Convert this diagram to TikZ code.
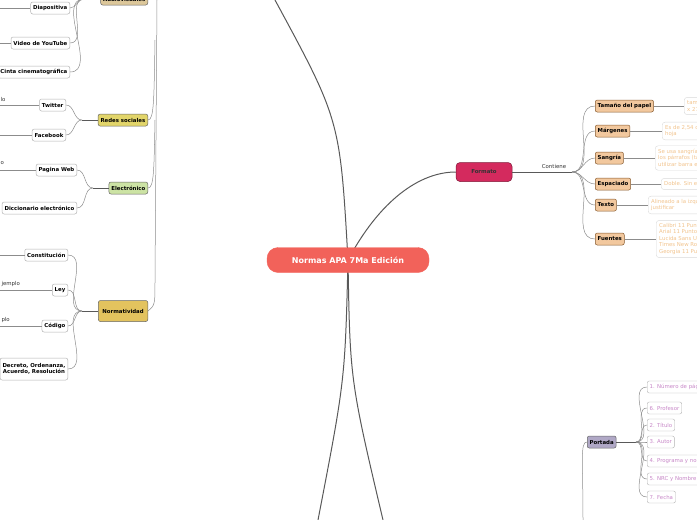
\documentclass[tikz,border=0pt]{standalone}
\usepackage{fontspec}
\setmainfont{DejaVu Sans}
\definecolor{fmtc}{HTML}{D42A5E}
\definecolor{tanc}{HTML}{F2C89E}
\definecolor{avc}{HTML}{DCC79A}
\definecolor{rsc}{HTML}{E2D56A}
\definecolor{elc}{HTML}{CCE3A4}
\definecolor{nmc}{HTML}{E3C35E}
\definecolor{porc}{HTML}{B0A8C6}
\definecolor{cenc}{HTML}{F2625A}
\definecolor{oc}{HTML}{F2C48E}
\definecolor{pc}{HTML}{C888C8}
\begin{document}
\begin{tikzpicture}[x=1pt,y=-1pt,
 ln/.style={draw=black!45,line width=0.5pt},
 trunk/.style={draw=black!65,line width=1pt},
 box/.style={draw=black!55,rounded corners=2pt,font=\fontsize{5.4}{6.5}\selectfont\bfseries,inner sep=2.4pt,minimum height=12pt,line width=0.5pt},
 leaf/.style={box,fill=white,draw=black!30},
 sub/.style={box,draw=black!60},
 oleaf/.style={draw=black!15,rounded corners=3pt,fill=white,text=oc,font=\fontsize{5.4}{6.5}\selectfont,inner sep=3pt,align=left},
 pleaf/.style={draw=black!30,rounded corners=2pt,fill=white,text=pc,font=\fontsize{5.4}{6.5}\selectfont,inner sep=2.5pt,minimum height=12pt},
 lbl/.style={font=\fontsize{5.4}{6.5}\selectfont,text=black!80}]
\useasboundingbox (0,0) rectangle (697,520);
\clip (0,0) rectangle (697,520);
\coordinate (c) at (348,260);
\coordinate (t1) at (275,0);
\coordinate (b1) at (318,520);
\coordinate (b2) at (383,520);
\coordinate (tr) at (157,0);
\draw[trunk] (c) .. controls (340,120) .. (t1);
\draw[trunk] (c) .. controls (345,380) .. (b1);
\draw[trunk] (c) .. controls (350,380) .. (b2);
% Formato
\node[box,fill=fmtc,draw=fmtc!60!black,minimum width=56pt,minimum height=19pt,rounded corners=4pt,text=black!80] (fmt) at (484,172) {Formato};
\draw[trunk] (c) .. controls (380,200) and (420,172) .. (fmt.west);
\coordinate (fj) at (572,172);
\draw[trunk] (fmt.east) -- (fj);
\node[lbl,above] at (554,172) {Contiene};
\tikzset{fs/.style={sub,fill=tanc,draw=brown!70!black,anchor=west}}
\node[fs] (tp) at (595,106) {Tamaño del papel};
\node[fs] (mg) at (595,131) {Márgenes};
\node[fs] (sg) at (595,158) {Sangría};
\node[fs] (es) at (595,184) {Espaciado};
\node[fs] (tx) at (595,205) {Texto};
\node[fs] (fu) at (595,239) {Fuentes};
\foreach \n in {tp,mg,sg,es,tx,fu}{\draw[ln] (fj) to[out=0,in=180] (\n.west);}
\node[oleaf,anchor=west] (tpl) at (684,106) {tamaño carta 21,59 cm\\x 27,94 cm};
\node[oleaf,anchor=west] (mgl) at (662,131) {Es de 2,54 cm en toda la\\hoja};
\node[oleaf,anchor=west] (sgl) at (655,158) {Se usa sangría de 1,27 cm en\\los párrafos (tabulador) sin\\utilizar barra espaciadora};
\node[oleaf,anchor=west] (esl) at (661,184) {Doble. Sin espacios};
\node[oleaf,anchor=west] (txl) at (648,205) {Alineado a la izquierda, sin\\ justificar};
\node[oleaf,anchor=west] (ful) at (656,239) {Calibri 11 Puntos\\Arial 11 Puntos\\Lucida Sans Unicode 10 Puntos\\Times New Roman 12 Puntos\\Georgia 11 Puntos};
\foreach \a/\b in {tp/tpl,mg/mgl,sg/sgl,es/esl,tx/txl,fu/ful}{\draw[ln] (\a.east) -- (\b.west);}
% Portada
\node[sub,fill=porc,anchor=west] (por) at (587,442) {Portada};
\coordinate (pb) at (583,520);
\draw[ln] (por.west) .. controls (580,442) and (583,460) .. (pb);
\coordinate (pj) at (636,442);
\draw[trunk] (por.east) -- (pj);
\foreach \n/\y/\t in {p1/387/1. Número de página,p6/408/6. Profesor,p2/425/2. Título,p3/442/3. Autor,p4/461/4. Programa y nombre,p5/479/5. NRC y Nombre,p7/497/7. Fecha}{
 \node[pleaf,anchor=west] (\n) at (647,\y) {\t};
 \draw[ln] (pj) to[out=0,in=180] (\n.west);}
% left trunk
\tikzset{ls/.style={sub,anchor=east}}
\node[ls,fill=avc] (av) at (148,-1) {Audiovisuales};
\node[ls,fill=rsc] (rs) at (148,120) {Redes sociales};
\node[ls,fill=elc] (el) at (148,188) {Electrónico};
\node[ls,fill=nmc,minimum height=21pt,inner xsep=4pt] (nm) at (148,311) {Normatividad};
\draw[ln] (tr) -- (155,280) .. controls (155,305) .. (nm.east);
\draw[ln] (155,40) .. controls (154,100) and (154,120) .. (rs.east);
\draw[ln] (155,120) .. controls (154,170) and (154,188) .. (el.east);
\draw[ln] (155,-5) -- (av.east);
\tikzset{le/.style={leaf,anchor=east}}
\node[le] (dp) at (70,8) {Diapositiva};
\node[le] (yt) at (70,43) {Video de YouTube};
\node[le] (cn) at (70,72) {Cinta cinematográfica};
\coordinate (aj) at (84,-1);
\draw[trunk] (av.west) -- (aj);
\foreach \n in {dp,yt,cn}{\draw[ln] (aj) to[out=180,in=0] (\n.east);}
\draw[ln] (0,8) -- (dp.west);
\draw[ln] (0,43) -- (yt.west);
\node[le] (tw) at (66,105) {Twitter};
\node[le] (fb) at (66,135) {Facebook};
\coordinate (rj) at (82,120);
\draw[trunk] (rs.west) -- (rj);
\foreach \n in {tw,fb}{\draw[ln] (rj) to[out=180,in=0] (\n.east);}
\draw[ln] (0,105) -- (tw.west); \node[lbl,anchor=west] at (-3,99) {lo};
\draw[ln] (0,135) -- (fb.west);
\node[le] (pw) at (77,170) {Pagina Web};
\node[le] (de) at (77,208) {Diccionario electrónico};
\coordinate (ej) at (93,188);
\draw[trunk] (el.west) -- (ej);
\foreach \n in {pw,de}{\draw[ln] (ej) to[out=180,in=0] (\n.east);}
\draw[ln] (0,170) -- (pw.west); \node[lbl,anchor=west] at (-3,163) {o};
\node[le] (co) at (68,255) {Constitución};
\node[le] (le) at (68,290) {Ley};
\node[le] (cd) at (68,326) {Código};
\node[le,align=center,minimum height=22pt] (dc) at (68,369) {Decreto, Ordenanza,\\Acuerdo, Resolución};
\coordinate (nj) at (82,311);
\draw[trunk] (nm.west) -- (nj);
\foreach \n in {co,le,cd,dc}{\draw[ln] (nj) to[out=180,in=0] (\n.east);}
\draw[ln] (0,255) -- (co.west);
\draw[ln] (0,290) -- (le.west); \node[lbl,anchor=west] at (-2,284) {jemplo};
\draw[ln] (0,326) -- (cd.west); \node[lbl,anchor=west] at (-2,320) {plo};
\node[fill=cenc,draw=cenc,rounded corners=11pt,minimum width=162pt,minimum height=25pt,text=white,font=\fontsize{8}{9}\selectfont\bfseries] (cen) at (c) {Normas APA 7Ma Edición};
\end{tikzpicture}
\end{document}
